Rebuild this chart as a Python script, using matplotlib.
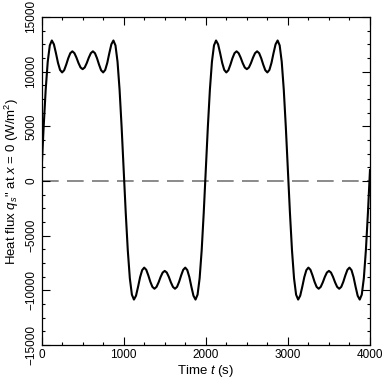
import numpy as np
import matplotlib
matplotlib.use("Agg")
import matplotlib.pyplot as plt
from matplotlib.ticker import MultipleLocator

# surface heat flux q_s'' at x = 0, every 25 s
time_s = np.arange(0, 4001, 25)
heat_flux = [
    1000, 4910, 8340, 10900, 12390, 12840, 12490, 11680, 10790, 10150,
    9920, 10120, 10630, 11220, 11680, 11850, 11680, 11270, 10770, 10370,
    10220, 10370, 10770, 11270, 11680, 11850, 11680, 11220, 10630, 10120,
    9920, 10150, 10790, 11680, 12490, 12840, 12390, 10900, 8340, 4910,
    1000, -2910, -6340, -8900, -10390, -10840, -10490, -9680, -8790, -8150,
    -7920, -8120, -8630, -9220, -9680, -9850, -9680, -9270, -8770, -8370,
    -8220, -8370, -8770, -9270, -9680, -9850, -9680, -9220, -8630, -8120,
    -7920, -8150, -8790, -9680, -10490, -10840, -10390, -8900, -6340, -2910,
    1000, 4910, 8340, 10900, 12390, 12840, 12490, 11680, 10790, 10150,
    9920, 10120, 10630, 11220, 11680, 11850, 11680, 11270, 10770, 10370,
    10220, 10370, 10770, 11270, 11680, 11850, 11680, 11220, 10630, 10120,
    9920, 10150, 10790, 11680, 12490, 12840, 12390, 10900, 8340, 4910,
    1000, -2910, -6340, -8900, -10390, -10840, -10490, -9680, -8790, -8150,
    -7920, -8120, -8630, -9220, -9680, -9850, -9680, -9270, -8770, -8370,
    -8220, -8370, -8770, -9270, -9680, -9850, -9680, -9220, -8630, -8120,
    -7920, -8150, -8790, -9680, -10490, -10840, -10390, -8900, -6340, -2910,
    1000,
]

x_ticks = [0, 1000, 2000, 3000, 4000]
y_ticks = [-15000, -10000, -5000, 0, 5000, 10000, 15000]

plt.rcParams["font.family"] = ["Liberation Sans", "DejaVu Sans"]
plt.rcParams["mathtext.fontset"] = "custom"
plt.rcParams["mathtext.rm"] = "Liberation Sans"
plt.rcParams["mathtext.it"] = "Liberation Sans:italic"

fig = plt.figure(figsize=(3.85, 3.83), dpi=100)
ax = fig.add_axes([0.108, 0.099, 0.853, 0.857])

ax.axhline(0, color="#777777", lw=1.2, dashes=(10, 5), zorder=1)
ax.plot(time_s, heat_flux, color="black", lw=1.5, zorder=2)

ax.set_xlim(0, 4000)
ax.set_ylim(-15000, 15000)
ax.set_xticks(x_ticks)
ax.set_yticks(y_ticks)
ax.xaxis.set_minor_locator(MultipleLocator(250))
ax.yaxis.set_minor_locator(MultipleLocator(1250))
ax.tick_params(which="both", direction="in", top=True, right=True, width=0.8)
ax.tick_params(which="major", length=5.5, labelsize=8.5, pad=3)
ax.tick_params(which="minor", length=2.5)
for lbl in ax.get_yticklabels():
    lbl.set_rotation(90)
    lbl.set_va("center")

for sp in ax.spines.values():
    sp.set_linewidth(0.9)

ax.set_xlabel("Time $t$ (s)", fontsize=9.5, labelpad=1)
ax.set_ylabel('Heat flux $q_s$" at $x$ = 0 (W/m$^2$)', fontsize=9.5, labelpad=3)

fig.savefig("out.png", dpi=100)
